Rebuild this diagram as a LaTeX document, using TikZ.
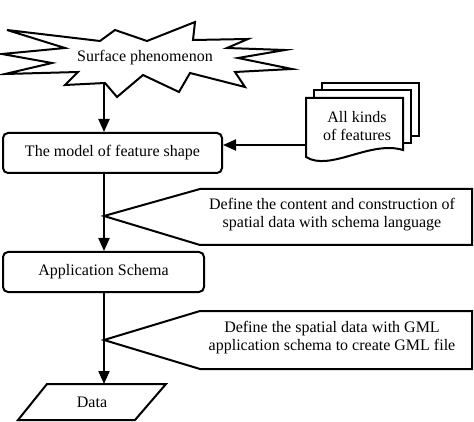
\documentclass[tikz,border=0pt]{standalone}
\usepackage{fontspec}
\setmainfont{Liberation Serif}
\usetikzlibrary{arrows.meta}
\begin{document}
\begin{tikzpicture}[x=1pt,y=-1pt,
  outline/.style={draw=black,line width=2pt,line join=miter},
  lbl/.style={font=\fontsize{16}{18}\selectfont,align=center,inner sep=0pt},
  arr/.style={line width=2pt,-{Triangle[length=13pt,width=11pt]}},
  rbox/.style={draw=black,line width=2pt,rounded corners=5pt,inner sep=0pt,
    font=\fontsize{16}{18}\selectfont,align=center}]
\useasboundingbox (0,0) rectangle (474,422);

% star
\draw[outline,fill=white] (7,30) -- (100,41) -- (115,30) -- (147,41) -- (195,22) -- (193,40)
  -- (248,39) -- (227,48) -- (285,50) -- (238,58) -- (292,69) -- (235,72) -- (245,87)
  -- (190,73) -- (179,92) -- (143,75) -- (117,97) -- (105,83) -- (65,85) -- (78,72)
  -- (5,74) -- (52,63) -- (2,54) -- (65,48) -- cycle;
\node[lbl] (star) at (145,58) {Surface phenomenon};
\coordinate (starbot) at (104,84);

% boxes
\node[rbox,minimum width=219pt,minimum height=40pt] (box1) at (112.5,153) {The model of feature shape};
\node[rbox,minimum width=201pt,minimum height=40pt] (box2) at (103.5,272) {Application Schema};

% documents
\draw[outline,fill=white] (322,83) rectangle (419,136);
\draw[outline,fill=white] (314,90) rectangle (411,143);
\draw[outline,fill=white] (306,98) -- (403,98) -- (403,150)
  .. controls (370,140) and (330,172) .. (306,157) -- cycle;
\node[lbl] (doc) at (357,126) {All kinds\\of features};
\coordinate (docin) at (306,145);

% callouts
\draw[outline] (200,189) -- (472,189) -- (472,245) -- (200,245) -- (104,216) -- cycle;
\node[lbl] (c1) at (332,215) {Define the content and construction of\\spatial data with schema language};
\draw[outline] (200,311) -- (472,311) -- (472,369) -- (200,369) -- (104,340) -- cycle;
\node[lbl] (c2) at (332,338) {Define the spatial data with GML\\application schema to create GML file};

% data
\draw[outline] (47,384) -- (166,384) -- (135,420) -- (18,420) -- cycle;
\node[lbl] (data) at (92,402) {Data};
\coordinate (datatop) at (104,384);

% connectors
\coordinate (spine) at (104,0);
\draw[arr] (starbot) -- (starbot |- box1.north);
\draw[arr] (docin) -- (docin -| box1.east);
\draw[arr] (spine |- box1.south) -- (spine |- box2.north);
\draw[arr] (spine |- box2.south) -- (datatop);
\end{tikzpicture}
\end{document}
